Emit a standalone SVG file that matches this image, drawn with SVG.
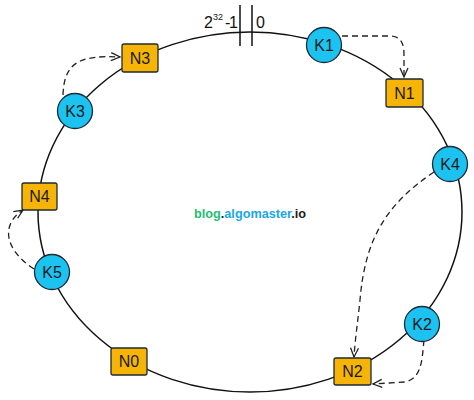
<svg xmlns="http://www.w3.org/2000/svg" width="474" height="400" viewBox="0 0 474 400">
<style>
.key circle{fill:#1cc3f0;stroke:#1e2a36;stroke-width:1.3}
.srv rect{fill:#f6b406;stroke:#1e2a36;stroke-width:1.3}
.lbl{font-family:"Liberation Sans","DejaVu Sans",sans-serif;font-size:16px;fill:#1a1a1a;text-anchor:middle;dominant-baseline:central}
.ring{fill:none;stroke:#111;stroke-width:1.5}
.dash{fill:none;stroke:#222;stroke-width:1.3;stroke-dasharray:6 4;marker-end:url(#ah)}
.t{font-family:"Liberation Sans","DejaVu Sans",sans-serif;fill:#111}
</style>
<defs>
<marker id="ah" markerUnits="userSpaceOnUse" markerWidth="12" markerHeight="12" refX="10" refY="5" orient="auto" viewBox="0 0 12 10">
<path d="M1,1 L10,5 L1,9" fill="none" stroke="#222" stroke-width="1.3"/>
</marker>
</defs>
<rect width="474" height="400" fill="#fff"/>
<ellipse class="ring" cx="250" cy="212" rx="212" ry="180"/>
<g id="zero-mark">
<line x1="240" y1="5" x2="240" y2="46" stroke="#111" stroke-width="1.5"/>
<line x1="252" y1="5" x2="252" y2="46" stroke="#111" stroke-width="1.5"/>
<text class="t" x="204" y="28" font-size="16">2</text>
<text class="t" x="213" y="20" font-size="9">32</text>
<text class="t" x="225" y="28" font-size="16">-</text>
<text class="t" x="229" y="28" font-size="16">1</text>
<text class="t" x="256" y="28" font-size="16">0</text>
</g>
<g id="connectors">
<path class="dash" d="M63,95 C64,62 80,55 120,57"/>
<path class="dash" d="M342,36 L390,36 C402,36 404,45 404,55 L404,77"/>
<path class="dash" d="M434,172 C385,205 365,240 360,300 C358,320 355,340 354,357"/>
<path class="dash" d="M424,340 C422,360 422,378 405,382 L373,384"/>
<path class="dash" d="M34,269 C5,250 0,225 23,210"/>
</g>
<g id="N3" class="srv"><rect x="122" y="44" width="36" height="28" rx="2"/><text class="lbl" x="140" y="58">N3</text></g>
<g id="N1" class="srv"><rect x="386" y="79" width="37" height="28" rx="2"/><text class="lbl" x="404.5" y="93">N1</text></g>
<g id="N4" class="srv"><rect x="22" y="183" width="35" height="27" rx="2"/><text class="lbl" x="39.5" y="196.5">N4</text></g>
<g id="N0" class="srv"><rect x="111" y="348" width="36" height="27" rx="2"/><text class="lbl" x="129" y="361.5">N0</text></g>
<g id="N2" class="srv"><rect x="334" y="358" width="37" height="27" rx="2"/><text class="lbl" x="352.5" y="371.5">N2</text></g>
<g id="K1" class="key"><circle cx="324" cy="45" r="17.5"/><text class="lbl" x="324" y="45">K1</text></g>
<g id="K3" class="key"><circle cx="75" cy="111" r="17.5"/><text class="lbl" x="75" y="111">K3</text></g>
<g id="K4" class="key"><circle cx="450" cy="164" r="17.5"/><text class="lbl" x="450" y="164">K4</text></g>
<g id="K5" class="key"><circle cx="52" cy="272" r="17.5"/><text class="lbl" x="52" y="272">K5</text></g>
<g id="K2" class="key"><circle cx="422" cy="324" r="17.5"/><text class="lbl" x="422" y="324">K2</text></g>
<text x="194" y="218" font-family="Liberation Sans, sans-serif" font-weight="bold" font-size="12.7"><tspan fill="#1dbf73">blog</tspan><tspan fill="#1a1a1a">.</tspan><tspan fill="#1aa7e6">algomaster</tspan><tspan fill="#1a1a1a">.io</tspan></text>
</svg>
